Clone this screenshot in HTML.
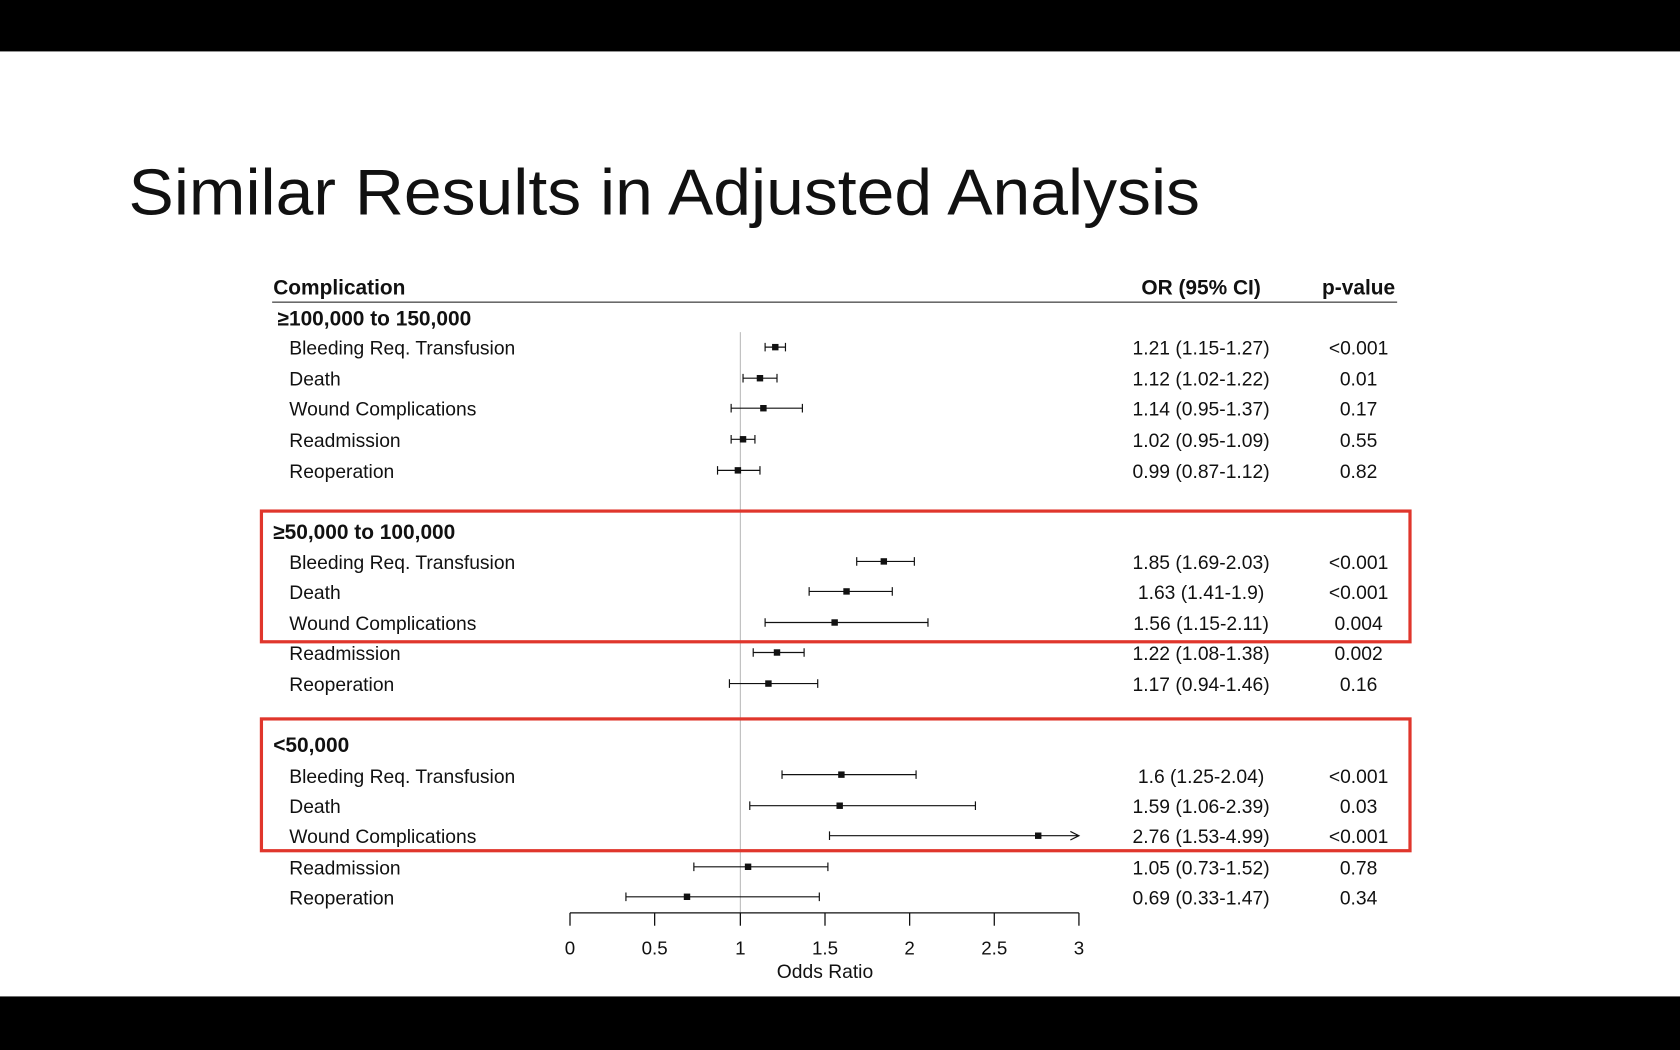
<!DOCTYPE html>
<html><head><meta charset="utf-8"><style>
html,body{margin:0;padding:0;background:#fff;width:1680px;height:1050px;overflow:hidden}
svg{display:block}
text{font-family:"Liberation Sans",sans-serif;fill:#111}
</style></head><body>
<svg width="1680" height="1050" viewBox="0 0 1568 980" preserveAspectRatio="none" xmlns="http://www.w3.org/2000/svg">
<rect x="0" y="0" width="1568" height="980" fill="#fff"/>
<rect x="0" y="0" width="1568" height="48" fill="#000"/>
<rect x="0" y="930" width="1568" height="50" fill="#000"/>
<text x="120" y="200" font-size="61" textLength="1000" lengthAdjust="spacingAndGlyphs" fill="#222">Similar Results in Adjusted Analysis</text>

<text x="255" y="275" font-size="19.5" font-weight="bold">Complication</text>
<text x="1121" y="275" font-size="19.5" font-weight="bold" text-anchor="middle">OR (95% CI)</text>
<text x="1268" y="275" font-size="19.5" font-weight="bold" text-anchor="middle">p-value</text>
<line x1="254" y1="282" x2="1304" y2="282" stroke="#111" stroke-width="1"/>

<line x1="691" y1="310" x2="691" y2="852" stroke="#bbb" stroke-width="1"/>

<g font-size="19.5" font-weight="bold">
<text x="259" y="304">≥100,000 to 150,000</text>
<text x="255" y="503">≥50,000 to 100,000</text>
<text x="255" y="702">&lt;50,000</text>
</g>

<g font-size="18">
<text x="270" y="331">Bleeding Req. Transfusion</text><text x="1121" y="331" text-anchor="middle">1.21 (1.15-1.27)</text><text x="1268" y="331" text-anchor="middle">&lt;0.001</text>
<text x="270" y="360">Death</text><text x="1121" y="360" text-anchor="middle">1.12 (1.02-1.22)</text><text x="1268" y="360" text-anchor="middle">0.01</text>
<text x="270" y="388">Wound Complications</text><text x="1121" y="388" text-anchor="middle">1.14 (0.95-1.37)</text><text x="1268" y="388" text-anchor="middle">0.17</text>
<text x="270" y="417">Readmission</text><text x="1121" y="417" text-anchor="middle">1.02 (0.95-1.09)</text><text x="1268" y="417" text-anchor="middle">0.55</text>
<text x="270" y="446">Reoperation</text><text x="1121" y="446" text-anchor="middle">0.99 (0.87-1.12)</text><text x="1268" y="446" text-anchor="middle">0.82</text>
<text x="270" y="531">Bleeding Req. Transfusion</text><text x="1121" y="531" text-anchor="middle">1.85 (1.69-2.03)</text><text x="1268" y="531" text-anchor="middle">&lt;0.001</text>
<text x="270" y="559">Death</text><text x="1121" y="559" text-anchor="middle">1.63 (1.41-1.9)</text><text x="1268" y="559" text-anchor="middle">&lt;0.001</text>
<text x="270" y="588">Wound Complications</text><text x="1121" y="588" text-anchor="middle">1.56 (1.15-2.11)</text><text x="1268" y="588" text-anchor="middle">0.004</text>
<text x="270" y="616">Readmission</text><text x="1121" y="616" text-anchor="middle">1.22 (1.08-1.38)</text><text x="1268" y="616" text-anchor="middle">0.002</text>
<text x="270" y="645">Reoperation</text><text x="1121" y="645" text-anchor="middle">1.17 (0.94-1.46)</text><text x="1268" y="645" text-anchor="middle">0.16</text>
<text x="270" y="731">Bleeding Req. Transfusion</text><text x="1121" y="731" text-anchor="middle">1.6 (1.25-2.04)</text><text x="1268" y="731" text-anchor="middle">&lt;0.001</text>
<text x="270" y="759">Death</text><text x="1121" y="759" text-anchor="middle">1.59 (1.06-2.39)</text><text x="1268" y="759" text-anchor="middle">0.03</text>
<text x="270" y="787">Wound Complications</text><text x="1121" y="787" text-anchor="middle">2.76 (1.53-4.99)</text><text x="1268" y="787" text-anchor="middle">&lt;0.001</text>
<text x="270" y="816">Readmission</text><text x="1121" y="816" text-anchor="middle">1.05 (0.73-1.52)</text><text x="1268" y="816" text-anchor="middle">0.78</text>
<text x="270" y="844">Reoperation</text><text x="1121" y="844" text-anchor="middle">0.69 (0.33-1.47)</text><text x="1268" y="844" text-anchor="middle">0.34</text>
</g>

<g stroke="#111" stroke-width="1.1" fill="none">
<path d="M714.1 324H733.1M714.1 320V328M733.1 320V328"/>
<path d="M693.5 353H725.2M693.5 349V357M725.2 349V357"/>
<path d="M682.4 381H748.9M682.4 377V385M748.9 377V385"/>
<path d="M682.4 410H704.6M682.4 406V414M704.6 406V414"/>
<path d="M669.7 439H709.3M669.7 435V443M709.3 435V443"/>
<path d="M799.6 524H853.4M799.6 520V528M853.4 520V528"/>
<path d="M755.2 552H832.8M755.2 548V556M832.8 548V556"/>
<path d="M714.1 581H866.1M714.1 577V585M866.1 577V585"/>
<path d="M703 609H750.5M703 605V613M750.5 605V613"/>
<path d="M680.8 638H763.2M680.8 634V642M763.2 634V642"/>
<path d="M729.9 723H855M729.9 719V727M855 719V727"/>
<path d="M699.8 752H910.4M699.8 748V756M910.4 748V756"/>
<path d="M774.2 780H1007M774.2 776V784M999 776L1007 780L999 784"/>
<path d="M647.6 809H772.7M647.6 805V813M772.7 805V813"/>
<path d="M584.2 837H764.7M584.2 833V841M764.7 833V841"/>
</g>
<g fill="#111">
<rect x="720.6" y="321" width="6" height="6"/>
<rect x="706.3" y="350" width="6" height="6"/>
<rect x="709.5" y="378" width="6" height="6"/>
<rect x="690.5" y="407" width="6" height="6"/>
<rect x="685.7" y="436" width="6" height="6"/>
<rect x="821.9" y="521" width="6" height="6"/>
<rect x="787.1" y="549" width="6" height="6"/>
<rect x="776" y="578" width="6" height="6"/>
<rect x="722.2" y="606" width="6" height="6"/>
<rect x="714.2" y="635" width="6" height="6"/>
<rect x="782.3" y="720" width="6" height="6"/>
<rect x="780.7" y="749" width="6" height="6"/>
<rect x="966" y="777" width="6" height="6"/>
<rect x="695.2" y="806" width="6" height="6"/>
<rect x="638.2" y="834" width="6" height="6"/>
</g>

<g stroke="#111" stroke-width="1.2">
<line x1="532" y1="852" x2="1007" y2="852"/>
<line x1="532" y1="852" x2="532" y2="864"/><line x1="611" y1="852" x2="611" y2="864"/>
<line x1="691" y1="852" x2="691" y2="864"/><line x1="770" y1="852" x2="770" y2="864"/>
<line x1="849" y1="852" x2="849" y2="864"/><line x1="928" y1="852" x2="928" y2="864"/>
<line x1="1007" y1="852" x2="1007" y2="864"/>
</g>
<g font-size="17.5" text-anchor="middle">
<text x="532" y="891">0</text><text x="611" y="891">0.5</text><text x="691" y="891">1</text>
<text x="770" y="891">1.5</text><text x="849" y="891">2</text><text x="928" y="891">2.5</text><text x="1007" y="891">3</text>
<text x="770" y="913" font-size="18">Odds Ratio</text>
</g>

<rect x="244" y="477" width="1072" height="122" fill="none" stroke="#e0362c" stroke-width="3"/>
<rect x="244" y="671" width="1072" height="123" fill="none" stroke="#e0362c" stroke-width="3"/>
</svg>
</body></html>
